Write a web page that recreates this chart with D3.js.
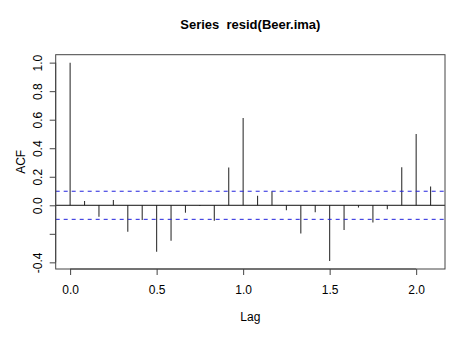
<!DOCTYPE html>
<html>
<head>
<meta charset="utf-8">
<script src="https://cdn.jsdelivr.net/npm/d3@7"></script>
<style>
  html, body { margin: 0; padding: 0; background: #fff; }
  svg { display: block; }
  text { font-family: "Liberation Sans", Arial, Helvetica, sans-serif; fill: #000; white-space: pre; }
</style>
</head>
<body>
<svg id="chart" width="474" height="338"></svg>
<script>
// Autocorrelation of the residuals, lags 0..25 months (in years)
const lags = d3.range(0, 26).map(k => k / 12);
const acfValues = [
  1.000, 0.030, -0.080, 0.037, -0.185, -0.103, -0.326, -0.248, -0.052, -0.005,
  -0.108, 0.265, 0.612, 0.066, 0.098, -0.035, -0.197, -0.049, -0.391, -0.173,
  -0.016, -0.120, -0.028, 0.267, 0.499, 0.131
];
const ciBound = 0.0985;
const xTicks = [0, 0.5, 1, 1.5, 2];
const yTicks = [-0.4, -0.2, 0, 0.2, 0.4, 0.6, 0.8, 1.0];
const yTickLabels = ["-0.4", "", "0.0", "0.2", "0.4", "0.6", "0.8", "1.0"];
const title = "Series  resid(Beer.ima)";
const xLabel = "Lag";
const yLabel = "ACF";

const box = { left: 55.7, right: 445, top: 54.7, bottom: 269 };

// R-style 4% padding around the data range
const xMin = d3.min(lags), xMax = d3.max(lags);
const xPad = (xMax - xMin) * 0.04;
const yLo = Math.min(d3.min(acfValues), -ciBound), yHi = Math.max(d3.max(acfValues), ciBound);
const yPad = (yHi - yLo) * 0.04;

const x = d3.scaleLinear().domain([xMin - xPad, xMax + xPad]).range([box.left, box.right]);
const y = d3.scaleLinear().domain([yLo - yPad, yHi + yPad]).range([box.bottom, box.top]);

const svg = d3.select("#chart");

// Spikes
svg.append("g")
  .selectAll("line")
  .data(acfValues)
  .join("line")
  .attr("x1", (d, i) => x(lags[i]))
  .attr("x2", (d, i) => x(lags[i]))
  .attr("y1", y(0))
  .attr("y2", d => y(d))
  .attr("stroke", "#333")
  .attr("stroke-width", 1.1);

// Zero line
svg.append("line")
  .attr("x1", box.left).attr("x2", box.right)
  .attr("y1", y(0)).attr("y2", y(0))
  .attr("stroke", "#111").attr("stroke-width", 1);

// Confidence bounds
svg.append("g")
  .selectAll("line")
  .data([ciBound, -ciBound])
  .join("line")
  .attr("x1", box.left).attr("x2", box.right)
  .attr("y1", d => y(d)).attr("y2", d => y(d))
  .attr("stroke", "#2222dd")
  .attr("stroke-width", 1)
  .attr("stroke-dasharray", "4,4");

// Plot frame
svg.append("rect")
  .attr("x", box.left).attr("y", box.top)
  .attr("width", box.right - box.left).attr("height", box.bottom - box.top)
  .attr("fill", "none").attr("stroke", "#444").attr("stroke-width", 1);

// X axis
const xAxis = d3.axisBottom(x)
  .tickValues(xTicks)
  .tickFormat(d3.format(".1f"))
  .tickSize(6)
  .tickPadding(10);
const gx = svg.append("g").attr("transform", `translate(0,${box.bottom})`).call(xAxis);
gx.select(".domain").attr("d", `M${x(xTicks[0])},0H${x(xTicks[xTicks.length - 1])}`).attr("stroke", "#444");
gx.selectAll(".tick line").attr("stroke", "#444");
gx.selectAll(".tick text").attr("font-size", 12).attr("fill", "#000")
  .style("font-family", '"Liberation Sans", Arial, sans-serif');

// Y axis with rotated labels
const yAxis = d3.axisLeft(y)
  .tickValues(yTicks)
  .tickFormat((d, i) => yTickLabels[i])
  .tickSize(6);
const gy = svg.append("g").attr("transform", `translate(${box.left},0)`).call(yAxis);
gy.select(".domain").attr("d", `M0,${y(yTicks[0])}V${y(yTicks[yTicks.length - 1])}`).attr("stroke", "#444");
gy.selectAll(".tick line").attr("stroke", "#444");
gy.selectAll(".tick text")
  .attr("font-size", 12).attr("fill", "#000")
  .style("font-family", '"Liberation Sans", Arial, sans-serif')
  .attr("x", null).attr("dy", null)
  .attr("text-anchor", "middle")
  .attr("transform", "translate(-14,0) rotate(-90)");

// Title and axis titles
svg.append("text")
  .attr("x", (box.left + box.right) / 2).attr("y", 28.5)
  .attr("text-anchor", "middle")
  .attr("font-size", 13).attr("font-weight", "bold")
  .attr("xml:space", "preserve")
  .text(title);

svg.append("text")
  .attr("x", (box.left + box.right) / 2).attr("y", 321)
  .attr("text-anchor", "middle")
  .attr("font-size", 12)
  .text(xLabel);

svg.append("text")
  .attr("transform", `translate(25,${(box.top + box.bottom) / 2}) rotate(-90)`)
  .attr("text-anchor", "middle")
  .attr("font-size", 12)
  .text(yLabel);
</script>
</body>
</html>
